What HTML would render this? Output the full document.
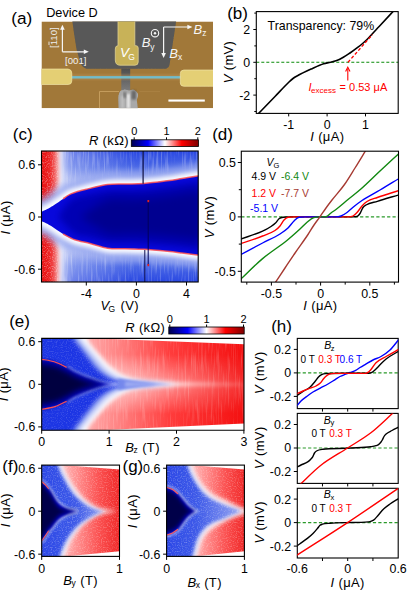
<!DOCTYPE html>
<html><head><meta charset="utf-8"><style>
html,body{margin:0;padding:0;background:#fff;width:415px;height:593px;overflow:hidden}
svg{display:block;font-family:"Liberation Sans", sans-serif}
</style></head><body>
<svg width="415" height="593" viewBox="0 0 415 593">
<defs><clipPath id="clipA"><rect x="41.5" y="21.5" width="171.5" height="86.7"/></clipPath>
<filter id="tex" x="0" y="0" width="1" height="1"><feTurbulence type="fractalNoise" baseFrequency="0.7" numOctaves="2" seed="7" result="n"/><feColorMatrix in="n" type="matrix" values="0 0 0 0 1  0 0 0 0 1  0 0 0 0 1  3 0 0 0 -1.5" result="w"/><feComposite in="w" in2="SourceAlpha" operator="in" result="w2"/><feMerge><feMergeNode in="SourceGraphic"/><feMergeNode in="w2"/></feMerge></filter>
<linearGradient id="gStrip" x1="0" y1="68.7" x2="0" y2="90" gradientUnits="userSpaceOnUse"><stop offset="0" stop-color="#4e4e4e"/><stop offset="1" stop-color="#7a7a7a"/></linearGradient>
<clipPath id="clipB"><rect x="256.3" y="11.6" width="141.89999999999998" height="101.80000000000001"/></clipPath>
<clipPath id="clipC"><rect x="41.5" y="151" width="156.7" height="131"/></clipPath>
<linearGradient id="gCbase" x1="0" y1="151" x2="0" y2="282" gradientUnits="userSpaceOnUse"><stop offset="0" stop-color="#2a48e2"/><stop offset="0.12" stop-color="#4a68e6"/><stop offset="0.24" stop-color="#98a8f0"/><stop offset="0.5" stop-color="#c8d0f6"/><stop offset="0.76" stop-color="#98a8f0"/><stop offset="0.88" stop-color="#4a68e6"/><stop offset="1" stop-color="#2a48e2"/></linearGradient>
<linearGradient id="gCwhite" x1="55" y1="0" x2="130" y2="0" gradientUnits="userSpaceOnUse"><stop offset="0" stop-color="#ffffff" stop-opacity="0.7"/><stop offset="0.25" stop-color="#ffffff" stop-opacity="0.3"/><stop offset="1" stop-color="#ffffff" stop-opacity="0"/></linearGradient>
<filter id="blur2" x="-20%" y="-20%" width="140%" height="140%"><feGaussianBlur stdDeviation="2"/></filter>
<filter id="blur1" x="-20%" y="-20%" width="140%" height="140%"><feGaussianBlur stdDeviation="1"/></filter>
<filter id="blur3" x="-20%" y="-20%" width="140%" height="140%"><feGaussianBlur stdDeviation="3.5"/></filter>
<filter id="blur5" x="-30%" y="-30%" width="160%" height="160%"><feGaussianBlur stdDeviation="5"/></filter>
<filter id="streak" x="0" y="0" width="1" height="1"><feTurbulence type="fractalNoise" baseFrequency="0.6 0.04" numOctaves="2" seed="11"/><feColorMatrix type="matrix" values="0 0 0 0 1  0 0 0 0 1  0 0 0 0 1  2.6 0 0 0 -1.25"/><feComposite in2="SourceAlpha" operator="in"/></filter>
<filter id="speck" x="0" y="0" width="1" height="1"><feTurbulence type="fractalNoise" baseFrequency="0.8" numOctaves="1" seed="5"/><feColorMatrix type="matrix" values="0 0 0 0 1  0 0 0 0 1  0 0 0 0 1  3 0 0 0 -1.45"/><feComposite in2="SourceAlpha" operator="in"/></filter>
<linearGradient id="gCr" x1="41" y1="0" x2="59" y2="0" gradientUnits="userSpaceOnUse"><stop offset="0" stop-color="#e81010"/><stop offset="0.55" stop-color="#ec2222"/><stop offset="0.8" stop-color="#f26060"/><stop offset="1" stop-color="#f8a8a8"/></linearGradient>
<clipPath id="clipLensC"><path d="M40 212.3C41 211.88 44.07 210.75 46 209.8C47.93 208.85 48.75 208.42 51.6 206.6C54.45 204.78 59.9 201.02 63.1 198.9C66.3 196.78 66.93 195.5 70.8 193.9C74.67 192.3 80.18 190.85 86.3 189.3C92.42 187.75 101.05 185.48 107.5 184.6C113.95 183.72 118.92 184.18 125 184C131.08 183.82 136.97 184.03 144 183.5C151.03 182.97 160.87 181.63 167.2 180.8C173.53 179.97 176.53 179.38 182 178.5C187.47 177.62 197 176 200 175.5 L200 255.3C197 254.92 187.47 253.67 182 253C176.53 252.33 173.53 251.92 167.2 251.3C160.87 250.68 151.03 249.72 144 249.3C136.97 248.88 131.08 248.98 125 248.8C118.92 248.62 113.32 249.08 107.5 248.2C101.68 247.32 95.57 244.92 90.1 243.5C84.63 242.08 79.2 241.3 74.7 239.7C70.2 238.1 66.95 236.15 63.1 233.9C59.25 231.65 54.45 227.98 51.6 226.2C48.75 224.42 47.93 224.13 46 223.2C44.07 222.27 41 221.03 40 220.6 Z"/></clipPath>
<linearGradient id="gSeis" x1="0" y1="0" x2="1" y2="0"><stop offset="0" stop-color="#00004c"/><stop offset="0.25" stop-color="#0000ff"/><stop offset="0.5" stop-color="#ffffff"/><stop offset="0.75" stop-color="#ff0000"/><stop offset="1" stop-color="#7f0000"/></linearGradient>
<clipPath id="clipD"><rect x="241.3" y="151.2" width="157.2" height="130.90000000000003"/></clipPath>
<clipPath id="clipE"><path d="M41.7 338.4 H100 L244 344.3 V423.5 L100 430.2 H41.7 Z"/></clipPath>
<linearGradient id="gEred" x1="80" y1="0" x2="244" y2="0" gradientUnits="userSpaceOnUse"><stop offset="0" stop-color="#ffb4b4"/><stop offset="0.25" stop-color="#ff8080"/><stop offset="0.55" stop-color="#ff3c3c"/><stop offset="1" stop-color="#f41010"/></linearGradient>
<filter id="bl3" x="-50%" y="-50%" width="200%" height="200%"><feGaussianBlur stdDeviation="3"/></filter>
<filter id="bl2" x="-50%" y="-50%" width="200%" height="200%"><feGaussianBlur stdDeviation="2"/></filter>
<filter id="bl15" x="-50%" y="-50%" width="200%" height="200%"><feGaussianBlur stdDeviation="1.5"/></filter>
<filter id="bl4" x="-50%" y="-50%" width="200%" height="200%"><feGaussianBlur stdDeviation="4"/></filter>
<linearGradient id="gEc" x1="0" y1="354" x2="0" y2="414" gradientUnits="userSpaceOnUse"><stop offset="0" stop-color="#fff" stop-opacity="0"/><stop offset="0.5" stop-color="#fff" stop-opacity="0.75"/><stop offset="1" stop-color="#fff" stop-opacity="0"/></linearGradient>
<linearGradient id="gEcm" x1="100" y1="0" x2="244" y2="0" gradientUnits="userSpaceOnUse"><stop offset="0" stop-color="#fff" stop-opacity="1"/><stop offset="0.6" stop-color="#fff" stop-opacity="0.5"/><stop offset="1" stop-color="#fff" stop-opacity="0.15"/></linearGradient>
<mask id="mEc"><rect x="40" y="330" width="210" height="110" fill="url(#gEcm)"/></mask>
<clipPath id="clipEred"><path d="M40 330 H250 V440 H40 Z"/></clipPath>
<clipPath id="clipF"><path d="M41.7 465.1 H61.7 L119.5 469.5 V551.2 L64.7 556.4 H41.7 Z"/></clipPath>
<linearGradient id="gredF" x1="61.7" y1="0" x2="119.5" y2="0" gradientUnits="userSpaceOnUse"><stop offset="0" stop-color="#ffbcbc"/><stop offset="0.3" stop-color="#ff8a8a"/><stop offset="0.65" stop-color="#fb5050"/><stop offset="1" stop-color="#f02828"/></linearGradient>
<linearGradient id="gblueF" x1="41.7" y1="0" x2="105.7" y2="0" gradientUnits="userSpaceOnUse"><stop offset="0" stop-color="#2c48e6"/><stop offset="0.55" stop-color="#3e5ae8"/><stop offset="1" stop-color="#98a6f2"/></linearGradient>
<clipPath id="clipG"><path d="M166.6 465.1 H189.6 L244.4 469.5 V551.2 L193.6 556.4 H166.6 Z"/></clipPath>
<linearGradient id="gredG" x1="191.6" y1="0" x2="244.4" y2="0" gradientUnits="userSpaceOnUse"><stop offset="0" stop-color="#ffbcbc"/><stop offset="0.3" stop-color="#ff8a8a"/><stop offset="0.65" stop-color="#fb5050"/><stop offset="1" stop-color="#f02828"/></linearGradient>
<linearGradient id="gblueG" x1="166.6" y1="0" x2="242.6" y2="0" gradientUnits="userSpaceOnUse"><stop offset="0" stop-color="#2c48e6"/><stop offset="0.4" stop-color="#3e5ae8"/><stop offset="1" stop-color="#98a6f2"/></linearGradient>
<clipPath id="clipH0"><rect x="297.3" y="338.4" width="100.9" height="70.2"/></clipPath>
<clipPath id="clipH1"><rect x="297.3" y="413.4" width="100.9" height="70"/></clipPath>
<clipPath id="clipH2"><rect x="297.3" y="488.3" width="100.9" height="69.7"/></clipPath></defs>
<text x="11.2" y="24.4" font-size="17.2" text-anchor="start" fill="#000">(a)</text>
<text x="46.2" y="16.8" font-size="12.7" text-anchor="start" fill="#000">Device D</text>
<g clip-path="url(#clipA)">
<g>
<rect x="41.5" y="21.5" width="171.5" height="86.7" fill="#93641c" stroke="none" stroke-width="1"/>
<rect x="41.5" y="21.5" width="171.5" height="86.7" fill="#ffffff" opacity="0.13" filter="url(#tex)"/>
<path d="M72.2 20 L74.2 34.5 L76.5 48.9 L79 58 C80.5 64 82 67 86.5 68.7 L165.5 68.7 C168.5 68 169.2 66.5 169.8 63 L176.3 20 Z" fill="#383838" stroke="none" stroke-width="1"/>
<path d="M72.2 20 L74.2 34.5 L76.5 48.9 L79 58 C80.5 64 82 67 86.5 68.7 L165.5 68.7 C168.5 68 169.2 66.5 169.8 63 L176.3 20 Z" fill="#ffffff" opacity="0.16" filter="url(#tex)"/>
<path d="M118 20 L134.8 20 L134.8 45.7 L136 45.7 Q138.2 45.7 138.2 48 L138.2 62 Q138.2 65.2 135 65.2 L120 65.2 Q115.3 65.2 115.3 60 L115.3 49 Q115.3 45.7 118 45.7 Z" fill="#c8b258" stroke="#e0d090" stroke-width="0.8"/>
<rect x="121.3" y="68.7" width="8.9" height="22" fill="url(#gStrip)" stroke="none" stroke-width="1"/>
<path d="M118.6 108.5 L118.3 99 Q118.5 92 121 90.5 L125 89.5 L129 90.5 L133 89.5 Q137.5 91 138.2 95 L136.8 100 L137.8 108.5 Z" fill="#7c7c7c" stroke="none" stroke-width="1"/>
<path d="M118.6 108.5 L118.3 99 Q118.5 92 121 90.5 L125 89.5 L129 90.5 L133 89.5 Q137.5 91 138.2 95 L136.8 100 L137.8 108.5 Z" fill="#ffffff" opacity="0.35" filter="url(#tex)"/>
<rect x="126.8" y="94" width="3.2" height="14.5" fill="#f0f0f0" stroke="none" stroke-width="1" opacity="0.9" filter="url(#blur1)"/>
<rect x="131.5" y="90.5" width="4.5" height="9" fill="#303030" stroke="none" stroke-width="1" opacity="0.55" filter="url(#blur1)"/>
<rect x="121" y="96" width="3" height="12" fill="#d0d0d0" stroke="none" stroke-width="1" opacity="0.6" filter="url(#blur1)"/>
<rect x="123.5" y="92" width="2.5" height="6" fill="#383838" stroke="none" stroke-width="1" opacity="0.5" filter="url(#blur1)"/>
<rect x="71" y="74.8" width="110" height="4.6" fill="#c09860" stroke="none" stroke-width="1" opacity="0.55" filter="url(#blur1)"/>
<rect x="71" y="76.1" width="110" height="2.4" fill="#72bccb" stroke="none" stroke-width="1"/>
<path d="M40 69 L68 69 Q71.8 69.5 71.8 73 L71.8 81 Q71.8 84.5 68 84.5 L40 84.5 Z" fill="#dec452" stroke="#ecdc98" stroke-width="0.7"/>
<path d="M40 69 L68 69 Q71.8 69.5 71.8 73 L71.8 81 Q71.8 84.5 68 84.5 L40 84.5 Z" fill="#ffffff" opacity="0.2" filter="url(#tex)"/>
<path d="M215 70 L183.8 70 Q180.3 70.3 180.3 73.5 L180.3 83 Q180.3 86.3 183.8 86.3 L215 86.3 Z" fill="#dec452" stroke="#ecdc98" stroke-width="0.7"/>
<path d="M215 70 L183.8 70 Q180.3 70.3 180.3 73.5 L180.3 83 Q180.3 86.3 183.8 86.3 L215 86.3 Z" fill="#ffffff" opacity="0.2" filter="url(#tex)"/>
<path d="M99.5 108.5 L99.5 91.5 L119 91.5" fill="none" stroke="#c8a060" stroke-width="0.9"/>
<path d="M139.5 91.5 L160 91.5" fill="none" stroke="#c8a060" stroke-width="0.7" opacity="0.3"/>
</g>
<rect x="168.4" y="99.5" width="36.4" height="2.1" fill="#ffffff" stroke="none" stroke-width="1"/>
<line x1="62.4" y1="51.8" x2="62.4" y2="28.5" stroke="#f6f6f6" stroke-width="1.2"/>
<path d="M60.1 29.8 L62.4 24.8 L64.7 29.8 Z" fill="#f6f6f6" stroke="none" stroke-width="1"/>
<line x1="62.4" y1="51.8" x2="85" y2="51.8" stroke="#f6f6f6" stroke-width="1.2"/>
<path d="M83.8 49.5 L88.8 51.8 L83.8 54.1 Z" fill="#f6f6f6" stroke="none" stroke-width="1"/>
<text x="86.4" y="63.8" font-size="9.6" text-anchor="end" fill="#f2f2f2">[001]</text>
<text x="57" y="37.6" font-size="9.6" text-anchor="middle" fill="#eeeeee" transform="rotate(-90 57 37.6)">[110]</text>
<line x1="49" y1="41.6" x2="49" y2="45" stroke="#eeeeee" stroke-width="0.9"/>
<line x1="163.6" y1="27" x2="163.6" y2="54" stroke="#f6f6f6" stroke-width="1.2"/>
<path d="M161.3 53 L163.6 58 L165.9 53 Z" fill="#f6f6f6" stroke="none" stroke-width="1"/>
<line x1="163.6" y1="27" x2="188.5" y2="27" stroke="#f6f6f6" stroke-width="1.2"/>
<path d="M187.4 24.7 L192.4 27 L187.4 29.3 Z" fill="#f6f6f6" stroke="none" stroke-width="1"/>
<text x="193.6" y="33.8" font-size="13" text-anchor="start" fill="#f6f6f6" font-style="italic">B</text>
<text x="202.3" y="36.3" font-size="8.5" text-anchor="start" fill="#f6f6f6">z</text>
<text x="169.2" y="57.5" font-size="13" text-anchor="start" fill="#f6f6f6" font-style="italic">B</text>
<text x="178" y="60.2" font-size="8.5" text-anchor="start" fill="#f6f6f6">x</text>
<text x="141.8" y="47.3" font-size="13" text-anchor="start" fill="#f6f6f6" font-style="italic">B</text>
<text x="150.3" y="50.2" font-size="8.5" text-anchor="start" fill="#f6f6f6">y</text>
<circle cx="155" cy="33.2" r="3.7" fill="none" stroke="#f6f6f6" stroke-width="1.1"/>
<circle cx="155" cy="33.2" r="1.2" fill="#f6f6f6"/>
<text x="120" y="56.5" font-size="13.5" text-anchor="start" fill="#fff" font-style="italic">V</text>
<text x="128.3" y="59.8" font-size="8.5" text-anchor="start" fill="#fff">G</text>
</g>
<text x="227.2" y="18.9" font-size="17" text-anchor="start" fill="#000">(b)</text>
<line x1="256.3" y1="62.3" x2="398.2" y2="62.3" stroke="#0a8a0a" stroke-width="1.1" stroke-dasharray="3 2"/>
<g clip-path="url(#clipB)">
<path d="M257.5 114.5C263.33 108.5 269.17 102.52 275 96.5C279.67 91.68 284.33 86.46 289 82C290.33 80.73 291.67 79.5 293 78.5C294.33 77.5 295.67 76.74 297 76C301.83 73.31 306.67 71.11 311.5 68.9C315.57 67.04 319.63 64.98 323.7 63.7C326 62.98 328.3 62.9 330.6 62.3C333.5 61.54 336.4 60.85 339.3 59.5C342.87 57.84 346.43 55.38 350 53C352.67 51.22 355.33 49.23 358 47.2C359.33 46.18 360.67 45.13 362 44C363.67 42.58 365.33 41.15 367 39.5C370.47 36.07 373.93 32.02 377.4 28.3C382.03 23.32 386.67 18.34 391.3 13.4C391.87 12.8 392.43 12.2 393 11.6" fill="none" stroke="#000" stroke-width="1.6" stroke-linejoin="round"/>
</g>
<line x1="348" y1="62.3" x2="372.5" y2="34.5" stroke="#ff0000" stroke-width="1.3" stroke-dasharray="3.2 2"/>
<line x1="347.8" y1="80.5" x2="347.8" y2="69" stroke="#ff0000" stroke-width="1.1"/>
<path d="M345.6 71.5 L347.8 67.3 L350 71.5" fill="none" stroke="#ff0000" stroke-width="1.1"/>
<text x="308.4" y="91" font-size="11" text-anchor="start" fill="#ff0000" font-style="italic">I</text>
<text x="311" y="93" font-size="8" text-anchor="start" fill="#ff0000">excess</text>
<text x="339.6" y="91" font-size="11" text-anchor="start" fill="#ff0000">= 0.53 μA</text>
<text x="267.6" y="30.2" font-size="12.35" text-anchor="start" fill="#000">Transparency: 79%</text>
<rect x="256.3" y="11.6" width="141.9" height="101.8" fill="none" stroke="#000" stroke-width="1.1"/>
<line x1="253.3" y1="29.5" x2="256.3" y2="29.5" stroke="#000" stroke-width="1"/>
<text x="250.2" y="34.1" font-size="12.4" text-anchor="end" fill="#000">2</text>
<line x1="253.3" y1="62.3" x2="256.3" y2="62.3" stroke="#000" stroke-width="1"/>
<text x="250.2" y="66.9" font-size="12.4" text-anchor="end" fill="#000">0</text>
<line x1="253.3" y1="95.1" x2="256.3" y2="95.1" stroke="#000" stroke-width="1"/>
<text x="250.2" y="99.7" font-size="12.4" text-anchor="end" fill="#000">-2</text>
<line x1="254.3" y1="13.1" x2="256.3" y2="13.1" stroke="#000" stroke-width="1"/>
<line x1="254.3" y1="45.9" x2="256.3" y2="45.9" stroke="#000" stroke-width="1"/>
<line x1="254.3" y1="78.7" x2="256.3" y2="78.7" stroke="#000" stroke-width="1"/>
<line x1="254.3" y1="111.5" x2="256.3" y2="111.5" stroke="#000" stroke-width="1"/>
<line x1="288.7" y1="113.4" x2="288.7" y2="116.4" stroke="#000" stroke-width="1"/>
<text x="288.7" y="129" font-size="12.4" text-anchor="middle" fill="#000">-1</text>
<line x1="327.1" y1="113.4" x2="327.1" y2="116.4" stroke="#000" stroke-width="1"/>
<text x="327.1" y="129" font-size="12.4" text-anchor="middle" fill="#000">0</text>
<line x1="365.5" y1="113.4" x2="365.5" y2="116.4" stroke="#000" stroke-width="1"/>
<text x="365.5" y="129" font-size="12.4" text-anchor="middle" fill="#000">1</text>
<text x="233.2" y="62" font-size="13" text-anchor="middle" fill="#000" transform="rotate(-90 233.2 62)" letter-spacing="0.35"><tspan font-style="italic">V</tspan> (mV)</text>
<text x="327.3" y="141.2" font-size="13" text-anchor="middle" fill="#000" letter-spacing="0.35"><tspan font-style="italic">I</tspan> (μA)</text>
<text x="12.8" y="140.1" font-size="17" text-anchor="start" fill="#000">(c)</text>
<text x="212.2" y="140.3" font-size="17" text-anchor="start" fill="#000">(d)</text>
<g clip-path="url(#clipC)">
<rect x="41.5" y="151" width="156.7" height="131" fill="url(#gCbase)" stroke="none" stroke-width="1"/>
<rect x="41.5" y="151" width="156.7" height="131" fill="url(#gCwhite)" stroke="none" stroke-width="1"/>
<rect x="41.5" y="151" width="156.7" height="131" fill="#ffffff" opacity="0.3" filter="url(#streak)"/>
<path d="M35 145 L62 145 L62 289 L35 289 Z" fill="#ffffff" stroke="none" stroke-width="1" filter="url(#blur3)" opacity="0.9"/>
<path d="M35 145 L58 145 L58.5 165 L58.5 183 Q58 195 52 200 Q45 204 35 205 Z" fill="url(#gCr)" stroke="none" stroke-width="1" filter="url(#blur2)"/>
<path d="M35 289 L58 289 L58.5 270 L58.5 252 Q58 239 52 234 Q45 230 35 229 Z" fill="url(#gCr)" stroke="none" stroke-width="1" filter="url(#blur2)"/>
<path d="M35 145 L58 145 L58.5 165 L58.5 183 Q58 195 52 200 Q45 204 35 205 ZM35 289 L58 289 L58.5 270 L58.5 252 Q58 239 52 234 Q45 230 35 229 Z" fill="#ffffff" opacity="0.45" filter="url(#speck)"/>
<path d="M40 212.3C41 211.88 44.07 210.75 46 209.8C47.93 208.85 48.75 208.42 51.6 206.6C54.45 204.78 59.9 201.02 63.1 198.9C66.3 196.78 66.93 195.5 70.8 193.9C74.67 192.3 80.18 190.85 86.3 189.3C92.42 187.75 101.05 185.48 107.5 184.6C113.95 183.72 118.92 184.18 125 184C131.08 183.82 136.97 184.03 144 183.5C151.03 182.97 160.87 181.63 167.2 180.8C173.53 179.97 176.53 179.38 182 178.5C187.47 177.62 197 176 200 175.5 L200 255.3C197 254.92 187.47 253.67 182 253C176.53 252.33 173.53 251.92 167.2 251.3C160.87 250.68 151.03 249.72 144 249.3C136.97 248.88 131.08 248.98 125 248.8C118.92 248.62 113.32 249.08 107.5 248.2C101.68 247.32 95.57 244.92 90.1 243.5C84.63 242.08 79.2 241.3 74.7 239.7C70.2 238.1 66.95 236.15 63.1 233.9C59.25 231.65 54.45 227.98 51.6 226.2C48.75 224.42 47.93 224.13 46 223.2C44.07 222.27 41 221.03 40 220.6 Z" fill="none" stroke="#9cacf0" stroke-width="24" filter="url(#blur3)" opacity="0.9"/>
<path d="M40 212.3C41 211.88 44.07 210.75 46 209.8C47.93 208.85 48.75 208.42 51.6 206.6C54.45 204.78 59.9 201.02 63.1 198.9C66.3 196.78 66.93 195.5 70.8 193.9C74.67 192.3 80.18 190.85 86.3 189.3C92.42 187.75 101.05 185.48 107.5 184.6C113.95 183.72 118.92 184.18 125 184C131.08 183.82 136.97 184.03 144 183.5C151.03 182.97 160.87 181.63 167.2 180.8C173.53 179.97 176.53 179.38 182 178.5C187.47 177.62 197 176 200 175.5 L200 255.3C197 254.92 187.47 253.67 182 253C176.53 252.33 173.53 251.92 167.2 251.3C160.87 250.68 151.03 249.72 144 249.3C136.97 248.88 131.08 248.98 125 248.8C118.92 248.62 113.32 249.08 107.5 248.2C101.68 247.32 95.57 244.92 90.1 243.5C84.63 242.08 79.2 241.3 74.7 239.7C70.2 238.1 66.95 236.15 63.1 233.9C59.25 231.65 54.45 227.98 51.6 226.2C48.75 224.42 47.93 224.13 46 223.2C44.07 222.27 41 221.03 40 220.6 Z" fill="none" stroke="#ffffff" stroke-width="9" filter="url(#blur2)" opacity="0.95"/>
<path d="M40 212.3C41 211.88 44.07 210.75 46 209.8C47.93 208.85 48.75 208.42 51.6 206.6C54.45 204.78 59.9 201.02 63.1 198.9C66.3 196.78 66.93 195.5 70.8 193.9C74.67 192.3 80.18 190.85 86.3 189.3C92.42 187.75 101.05 185.48 107.5 184.6C113.95 183.72 118.92 184.18 125 184C131.08 183.82 136.97 184.03 144 183.5C151.03 182.97 160.87 181.63 167.2 180.8C173.53 179.97 176.53 179.38 182 178.5C187.47 177.62 197 176 200 175.5 L200 255.3C197 254.92 187.47 253.67 182 253C176.53 252.33 173.53 251.92 167.2 251.3C160.87 250.68 151.03 249.72 144 249.3C136.97 248.88 131.08 248.98 125 248.8C118.92 248.62 113.32 249.08 107.5 248.2C101.68 247.32 95.57 244.92 90.1 243.5C84.63 242.08 79.2 241.3 74.7 239.7C70.2 238.1 66.95 236.15 63.1 233.9C59.25 231.65 54.45 227.98 51.6 226.2C48.75 224.42 47.93 224.13 46 223.2C44.07 222.27 41 221.03 40 220.6 Z" fill="#0808dc" stroke="none" stroke-width="1"/>
<g clip-path="url(#clipLensC)">
<path d="M58 217C60.13 214.15 66.08 203.52 70.8 199.9C75.52 196.28 80.18 196.85 86.3 195.3C92.42 193.75 101.05 191.48 107.5 190.6C113.95 189.72 118.92 190.18 125 190C131.08 189.82 136.97 190.03 144 189.5C151.03 188.97 160.87 187.63 167.2 186.8C173.53 185.97 176.53 185.38 182 184.5C187.47 183.62 197 182 200 181.5 L200 249.3C197 248.92 187.47 247.67 182 247C176.53 246.33 173.53 245.92 167.2 245.3C160.87 244.68 151.03 243.72 144 243.3C136.97 242.88 131.08 242.98 125 242.8C118.92 242.62 113.32 243.08 107.5 242.2C101.68 241.32 95.57 238.92 90.1 237.5C84.63 236.08 80.05 237.12 74.7 233.7C69.35 230.28 60.78 219.78 58 217 Z" fill="#0000b4" stroke="none" stroke-width="1" filter="url(#blur3)"/>
<path d="M80 217C84.58 214.1 100 202.6 107.5 199.6C115 196.6 118.92 199.18 125 199C131.08 198.82 136.97 199.03 144 198.5C151.03 197.97 160.87 196.63 167.2 195.8C173.53 194.97 176.53 194.38 182 193.5C187.47 192.62 197 191 200 190.5 L200 240.3C197 239.92 187.47 238.67 182 238C176.53 237.33 173.53 236.92 167.2 236.3C160.87 235.68 151.03 234.72 144 234.3C136.97 233.88 131.08 233.98 125 233.8C118.92 233.62 115 236 107.5 233.2C100 230.4 84.58 219.7 80 217 Z" fill="#000090" stroke="none" stroke-width="1" filter="url(#blur5)"/>
</g>
<path d="M63.1 198.9C64.38 198.07 66.93 195.5 70.8 193.9C74.67 192.3 80.18 190.85 86.3 189.3C92.42 187.75 101.05 185.48 107.5 184.6C113.95 183.72 118.92 184.18 125 184C131.08 183.82 136.97 184.03 144 183.5C151.03 182.97 160.87 181.63 167.2 180.8C173.53 179.97 176.53 179.38 182 178.5C187.47 177.62 197 176 200 175.5" fill="none" stroke="#ff5050" stroke-width="1.5" opacity="0.85"/>
<path d="M63.1 233.9C65.03 234.87 70.2 238.1 74.7 239.7C79.2 241.3 84.63 242.08 90.1 243.5C95.57 244.92 101.68 247.32 107.5 248.2C113.32 249.08 118.92 248.62 125 248.8C131.08 248.98 136.97 248.88 144 249.3C151.03 249.72 160.87 250.68 167.2 251.3C173.53 251.92 176.53 252.33 182 253C187.47 253.67 197 254.92 200 255.3" fill="none" stroke="#ff5050" stroke-width="1.5" opacity="0.85"/>
<line x1="143.1" y1="151" x2="143.1" y2="183.8" stroke="#101040" stroke-width="1.2"/>
<line x1="144.8" y1="250" x2="144.8" y2="282" stroke="#101050" stroke-width="1"/>
<line x1="148.2" y1="201" x2="148.2" y2="265" stroke="#00005a" stroke-width="1"/>
<rect x="147.4" y="200" width="1.8" height="2.2" fill="#e02020" stroke="none" stroke-width="1"/>
<rect x="147.4" y="264" width="1.8" height="2.2" fill="#e02020" stroke="none" stroke-width="1"/>
</g>
<rect x="41.5" y="151" width="156.7" height="131" fill="none" stroke="#000" stroke-width="1.1"/>
<line x1="38" y1="164.8" x2="41.5" y2="164.8" stroke="#000" stroke-width="1"/>
<text x="35.4" y="169.2" font-size="12.4" text-anchor="end" fill="#000">0.6</text>
<line x1="38" y1="217" x2="41.5" y2="217" stroke="#000" stroke-width="1"/>
<text x="35.4" y="221.4" font-size="12.4" text-anchor="end" fill="#000">0</text>
<line x1="38" y1="269.2" x2="41.5" y2="269.2" stroke="#000" stroke-width="1"/>
<text x="35.4" y="273.6" font-size="12.4" text-anchor="end" fill="#000">-0.6</text>
<line x1="86.3" y1="282" x2="86.3" y2="285.5" stroke="#000" stroke-width="1"/>
<text x="86.3" y="297.7" font-size="12.4" text-anchor="middle" fill="#000">-4</text>
<line x1="136.4" y1="282" x2="136.4" y2="285.5" stroke="#000" stroke-width="1"/>
<text x="136.4" y="297.7" font-size="12.4" text-anchor="middle" fill="#000">0</text>
<line x1="186.5" y1="282" x2="186.5" y2="285.5" stroke="#000" stroke-width="1"/>
<text x="186.5" y="297.7" font-size="12.4" text-anchor="middle" fill="#000">4</text>
<text x="9.5" y="217.5" font-size="13" text-anchor="middle" fill="#000" transform="rotate(-90 9.5 217.5)" letter-spacing="0.35"><tspan font-style="italic">I</tspan> (μA)</text>
<text x="100.6" y="310.4" font-size="13" text-anchor="start" fill="#000" font-style="italic" letter-spacing="0.35">V</text>
<text x="108.6" y="311.8" font-size="8.5" text-anchor="start" fill="#000">G</text>
<text x="120.5" y="310.4" font-size="13" text-anchor="start" fill="#000" letter-spacing="0.35">(V)</text>
<rect x="131.3" y="139.8" width="67.2" height="6.7" fill="url(#gSeis)" stroke="#000" stroke-width="0.8"/>
<line x1="134.2" y1="137.3" x2="134.2" y2="139.8" stroke="#000" stroke-width="1"/>
<text x="134.2" y="134.9" font-size="11" text-anchor="middle" fill="#000">0</text>
<line x1="166.5" y1="137.3" x2="166.5" y2="139.8" stroke="#000" stroke-width="1"/>
<text x="166.5" y="134.9" font-size="11" text-anchor="middle" fill="#000">1</text>
<line x1="197.8" y1="137.3" x2="197.8" y2="139.8" stroke="#000" stroke-width="1"/>
<text x="197.8" y="134.9" font-size="11" text-anchor="middle" fill="#000">2</text>
<text x="88.9" y="145.4" font-size="13" text-anchor="start" fill="#000" letter-spacing="0.35"><tspan font-style="italic">R</tspan> (kΩ)</text>
<line x1="241.3" y1="216.9" x2="398.5" y2="216.9" stroke="#2a9a2a" stroke-width="1.1" stroke-dasharray="3.2 2.2"/>
<g clip-path="url(#clipD)">
<path d="M240 239.3C247.53 236.6 255.07 234.66 262.6 231.2C265.4 229.91 268.2 228.37 271 226.5C272.5 225.5 274 224.48 275.5 223C276.67 221.85 277.83 219.73 279 218.8C280.33 217.73 281.67 217.37 283 217.2C285.33 216.9 287.67 216.9 290 216.9C310.67 216.9 331.33 216.9 352 216.9C353.67 216.9 355.33 216.9 357 216.5C358 216.26 359 215 360 213.5C361 212 362 208.92 363 207.5C364 206.08 365 205.58 366 205C369.77 202.81 373.53 202.48 377.3 201.3C384.53 199.03 391.77 196.97 399 194.8" fill="none" stroke="#000000" stroke-width="1.4" stroke-linejoin="round"/>
<path d="M240 243.9C247.53 241.27 255.07 238.99 262.6 236C266.73 234.36 270.87 233.28 275 230.5C276.67 229.38 278.33 228 280 226C281.33 224.4 282.67 221.45 284 220C285.33 218.55 286.67 217.53 288 217.3C290.33 216.9 292.67 216.9 295 216.9C312.67 216.9 330.33 216.9 348 216.9C349.67 216.9 351.33 216.88 353 216C354.33 215.3 355.67 213.95 357 212.5C358.67 210.69 360.33 207.83 362 206C363.67 204.17 365.33 202.57 367 201.5C370.43 199.29 373.87 198.72 377.3 197.5C384.53 194.93 391.77 192.83 399 190.5" fill="none" stroke="#ff0000" stroke-width="1.4" stroke-linejoin="round"/>
<path d="M240 255C247.53 251 255.07 246.95 262.6 243C268.4 239.96 274.2 237.68 280 234C282.67 232.31 285.33 230.56 288 228C290 226.08 292 222.91 294 221C295.67 219.41 297.33 217.59 299 217.3C301.33 216.9 303.67 216.9 306 216.9C315.67 216.9 325.33 216.9 335 216.9C337 216.9 339 216.73 341 216C343 215.27 345 213.94 347 212.5C349.33 210.82 351.67 208.38 354 206.5C356.67 204.36 359.33 202.28 362 200.5C368 196.5 374 193.57 380 190C386.33 186.24 392.67 182.33 399 178.5" fill="none" stroke="#0000ff" stroke-width="1.4" stroke-linejoin="round"/>
<path d="M240 279.8C247.53 272.73 255.07 264.95 262.6 258.6C270.8 251.69 279 246.85 287.2 240.2C291.47 236.74 295.73 232.92 300 229C302.53 226.67 305.07 223.75 307.6 221.7C309.67 220.02 311.73 218.29 313.8 217.6C315.87 216.91 317.93 216.93 320 216.9C322 216.87 324 216.9 326 216.7C327.67 216.54 329.33 214.21 331 213C332.77 211.71 334.53 210.57 336.3 209.2C340.2 206.19 344.1 202.7 348 199.5C352.3 195.97 356.6 192.78 360.9 189C367.27 183.41 373.63 176.93 380 171C386.33 165.1 392.67 159.33 399 153.5" fill="none" stroke="#118811" stroke-width="1.4" stroke-linejoin="round"/>
<path d="M275 283C278.33 278 281.67 272.98 285 268C288.47 262.82 291.93 257.56 295.4 252.5C299.6 246.37 303.8 240.83 308 234.5C310 231.49 312 227.96 314 225C315.97 222.09 317.93 219.68 319.9 216.9C321.93 214.02 323.97 210.84 326 208C328 205.21 330 202.57 332 200C336.17 194.64 340.33 190.36 344.5 184.5C348 179.58 351.5 173.61 355 168C358.67 162.12 362.33 156 366 150" fill="none" stroke="#a63a32" stroke-width="1.4" stroke-linejoin="round"/>
</g>
<rect x="241.3" y="151.2" width="157.2" height="130.9" fill="none" stroke="#000" stroke-width="1.1"/>
<line x1="237.8" y1="162.5" x2="241.3" y2="162.5" stroke="#000" stroke-width="1"/>
<text x="235.9" y="166.9" font-size="12.4" text-anchor="end" fill="#000">0.5</text>
<line x1="237.8" y1="216.9" x2="241.3" y2="216.9" stroke="#000" stroke-width="1"/>
<text x="235.9" y="221.3" font-size="12.4" text-anchor="end" fill="#000">0</text>
<line x1="237.8" y1="271.3" x2="241.3" y2="271.3" stroke="#000" stroke-width="1"/>
<text x="235.9" y="275.7" font-size="12.4" text-anchor="end" fill="#000">-0.5</text>
<line x1="238.8" y1="189.7" x2="241.3" y2="189.7" stroke="#000" stroke-width="1"/>
<line x1="238.8" y1="244.1" x2="241.3" y2="244.1" stroke="#000" stroke-width="1"/>
<line x1="271.4" y1="282.1" x2="271.4" y2="285.6" stroke="#000" stroke-width="1"/>
<text x="271.4" y="297.8" font-size="12.4" text-anchor="middle" fill="#000">-0.5</text>
<line x1="320.6" y1="282.1" x2="320.6" y2="285.6" stroke="#000" stroke-width="1"/>
<text x="320.6" y="297.8" font-size="12.4" text-anchor="middle" fill="#000">0</text>
<line x1="369.8" y1="282.1" x2="369.8" y2="285.6" stroke="#000" stroke-width="1"/>
<text x="369.8" y="297.8" font-size="12.4" text-anchor="middle" fill="#000">0.5</text>
<line x1="246.8" y1="282.1" x2="246.8" y2="284.6" stroke="#000" stroke-width="1"/>
<line x1="296" y1="282.1" x2="296" y2="284.6" stroke="#000" stroke-width="1"/>
<line x1="345.2" y1="282.1" x2="345.2" y2="284.6" stroke="#000" stroke-width="1"/>
<line x1="394.4" y1="282.1" x2="394.4" y2="284.6" stroke="#000" stroke-width="1"/>
<text x="213.8" y="217" font-size="13" text-anchor="middle" fill="#000" transform="rotate(-90 213.8 217)" letter-spacing="0.35"><tspan font-style="italic">V</tspan> (mV)</text>
<text x="320.4" y="309.6" font-size="13" text-anchor="middle" fill="#000" letter-spacing="0.35"><tspan font-style="italic">I</tspan> (μA)</text>
<text x="266.4" y="166.4" font-size="10.5" text-anchor="start" fill="#000" font-style="italic">V</text>
<text x="273.4" y="168.4" font-size="7.5" text-anchor="start" fill="#000">G</text>
<text x="251.6" y="180.1" font-size="10.5" text-anchor="start" fill="#000">4.9 V</text>
<text x="281" y="180.1" font-size="10.5" text-anchor="start" fill="#118811">-6.4 V</text>
<text x="251.6" y="196.5" font-size="10.5" text-anchor="start" fill="#ff0000">1.2 V</text>
<text x="281" y="196.5" font-size="10.5" text-anchor="start" fill="#a63a32">-7.7 V</text>
<text x="250.1" y="212.3" font-size="10.5" text-anchor="start" fill="#0000ff">-5.1 V</text>
<text x="9.2" y="327.4" font-size="17" text-anchor="start" fill="#000">(e)</text>
<g clip-path="url(#clipE)">
<rect x="41.7" y="338.4" width="202.3" height="91.8" fill="url(#gEred)" stroke="none" stroke-width="1"/>
<rect x="41.7" y="354" width="203" height="60" fill="url(#gEc)" mask="url(#mEc)"/>
<path d="M86 320C86.25 323.1 86.33 334.07 87.5 338.6C88.67 343.13 91 344.55 93 347.2C95 349.85 97.42 352.08 99.5 354.5C101.58 356.92 103.17 359.3 105.5 361.7C107.83 364.1 110.42 366.58 113.5 368.9C116.58 371.22 119.92 373.78 124 375.6C128.08 377.42 131.17 378.77 138 379.8C144.83 380.83 155.5 381.18 165 381.8C174.5 382.42 179.17 383.08 195 383.5C210.83 383.92 249.17 384.17 260 384.3 L260 384.3C249.17 384.43 210.83 384.68 195 385.1C179.17 385.52 174.5 386.18 165 386.8C155.5 387.42 144.83 387.77 138 388.8C131.17 389.83 128.08 391.18 124 393C119.92 394.82 116.58 397.38 113.5 399.7C110.42 402.02 107.83 404.5 105.5 406.9C103.17 409.3 101.58 411.68 99.5 414.1C97.42 416.52 95 418.75 93 421.4C91 424.05 88.67 425.47 87.5 430C86.33 434.53 86.25 445.5 86 448.6 L30 448.6 L30 320 Z" fill="#ffffff" stroke="none" stroke-width="1" filter="url(#bl2)"/>
<rect x="41.7" y="338" width="203" height="93" fill="#ffffff" opacity="0.2" filter="url(#streak)" clip-path="url(#clipEred)"/>
<path d="M76 320C76.58 323.1 77.83 334.07 79.5 338.6C81.17 343.13 83.92 344.55 86 347.2C88.08 349.85 90 352.08 92 354.5C94 356.92 95.92 359.3 98 361.7C100.08 364.1 101.83 366.5 104.5 368.9C107.17 371.3 110.42 374.05 114 376.1C117.58 378.15 120.83 380.08 126 381.2C131.17 382.32 138.5 382.37 145 382.8C151.5 383.23 159.17 383.55 165 383.8C170.83 384.05 177.5 384.22 180 384.3 L180 384.3C177.5 384.38 170.83 384.55 165 384.8C159.17 385.05 151.5 385.37 145 385.8C138.5 386.23 131.17 386.28 126 387.4C120.83 388.52 117.58 390.45 114 392.5C110.42 394.55 107.17 397.3 104.5 399.7C101.83 402.1 100.08 404.5 98 406.9C95.92 409.3 94 411.68 92 414.1C90 416.52 88.08 418.75 86 421.4C83.92 424.05 81.17 425.47 79.5 430C77.83 434.53 76.58 445.5 76 448.6 L30 448.6 L30 320 Z" fill="#98a8f2" stroke="none" stroke-width="1" filter="url(#bl3)"/>
<path d="M70 320C70.67 323.1 72.33 334.07 74 338.6C75.67 343.13 78.08 344.55 80 347.2C81.92 349.85 83.67 352.08 85.5 354.5C87.33 356.92 89.08 359.3 91 361.7C92.92 364.1 94.67 366.6 97 368.9C99.33 371.2 102 373.57 105 375.5C108 377.43 110.83 379.25 115 380.5C119.17 381.75 124.17 382.42 130 383C135.83 383.58 145 383.78 150 384C155 384.22 158.33 384.25 160 384.3 L160 384.3C158.33 384.35 155 384.38 150 384.6C145 384.82 135.83 385.02 130 385.6C124.17 386.18 119.17 386.85 115 388.1C110.83 389.35 108 391.17 105 393.1C102 395.03 99.33 397.4 97 399.7C94.67 402 92.92 404.5 91 406.9C89.08 409.3 87.33 411.68 85.5 414.1C83.67 416.52 81.92 418.75 80 421.4C78.08 424.05 75.67 425.47 74 430C72.33 434.53 70.67 445.5 70 448.6 L30 448.6 L30 320 Z" fill="#1c34e4" stroke="none" stroke-width="1" filter="url(#bl2)"/>
<path d="M70 320C70.67 323.1 72.33 334.07 74 338.6C75.67 343.13 78.08 344.55 80 347.2C81.92 349.85 83.67 352.08 85.5 354.5C87.33 356.92 89.08 359.3 91 361.7C92.92 364.1 94.67 366.6 97 368.9C99.33 371.2 102 373.57 105 375.5C108 377.43 110.83 379.25 115 380.5C119.17 381.75 124.17 382.42 130 383C135.83 383.58 145 383.78 150 384C155 384.22 158.33 384.25 160 384.3 L160 384.3C158.33 384.35 155 384.38 150 384.6C145 384.82 135.83 385.02 130 385.6C124.17 386.18 119.17 386.85 115 388.1C110.83 389.35 108 391.17 105 393.1C102 395.03 99.33 397.4 97 399.7C94.67 402 92.92 404.5 91 406.9C89.08 409.3 87.33 411.68 85.5 414.1C83.67 416.52 81.92 418.75 80 421.4C78.08 424.05 75.67 425.47 74 430C72.33 434.53 70.67 445.5 70 448.6 L30 448.6 L30 320 Z" fill="#ffffff" opacity="0.18" filter="url(#speck)"/>
<path d="M118 378.5 Q140 383 172 384.3 Q140 385.6 118 390.1 Z" fill="#7488ec" stroke="none" stroke-width="1" filter="url(#bl15)"/>
<path d="M125 381.5 Q150 384 180 384.3 Q150 384.6 125 387.1 Z" fill="#a8b4f4" stroke="none" stroke-width="1" filter="url(#bl15)" opacity="0.8"/>
<path d="M66.6 367C67.97 367.8 71.38 370.13 74.8 371.8C78.22 373.47 82.67 375.3 87.1 377C91.53 378.7 96.25 380.78 101.4 382C106.55 383.22 115.23 383.92 118 384.3" fill="none" stroke="#b0bcf8" stroke-width="2.5" filter="url(#bl15)" opacity="0.75"/>
<path d="M66.6 401.6C67.97 400.8 71.38 398.47 74.8 396.8C78.22 395.13 82.67 393.3 87.1 391.6C91.53 389.9 96.25 387.82 101.4 386.6C106.55 385.38 115.23 384.68 118 384.3" fill="none" stroke="#b0bcf8" stroke-width="2.5" filter="url(#bl15)" opacity="0.75"/>
<path d="M30 359.2C32 359.22 37.83 358.83 42 359.3C46.17 359.77 50.9 360.65 55 362C59.1 363.35 63.3 365.65 66.6 367.4C69.9 369.15 71.38 370.78 74.8 372.5C78.22 374.22 82.67 376.02 87.1 377.7C91.53 379.38 97.08 381.5 101.4 382.6C105.72 383.7 111.07 384.02 113 384.3 L113 384.3C111.07 384.58 105.72 384.9 101.4 386C97.08 387.1 91.53 389.22 87.1 390.9C82.67 392.58 78.22 394.38 74.8 396.1C71.38 397.82 69.9 399.45 66.6 401.2C63.3 402.95 59.1 405.25 55 406.6C50.9 407.95 46.17 408.83 42 409.3C37.83 409.77 32 409.38 30 409.4 L30 409.4 L30 359.2 Z" fill="#0000c0" stroke="none" stroke-width="1" filter="url(#bl15)"/>
<path d="M30 363.5C32 363.5 37.83 363.08 42 363.5C46.17 363.92 51 364.75 55 366C59 367.25 62.5 369.25 66 371C69.5 372.75 72.33 374.83 76 376.5C79.67 378.17 83 379.7 88 381C93 382.3 103 383.75 106 384.3 L106 384.3C103 384.85 93 386.3 88 387.6C83 388.9 79.67 390.43 76 392.1C72.33 393.77 69.5 395.85 66 397.6C62.5 399.35 59 401.35 55 402.6C51 403.85 46.17 404.68 42 405.1C37.83 405.52 32 405.1 30 405.1 L30 405.1 L30 363.5 Z" fill="#000040" stroke="none" stroke-width="1" filter="url(#bl3)"/>
<path d="M42 359.3C44.17 359.75 50.9 360.65 55 362C59.1 363.35 64.67 366.5 66.6 367.4" fill="none" stroke="#ff5050" stroke-width="1.2"/>
<path d="M42 409.3C44.17 408.85 50.9 407.95 55 406.6C59.1 405.25 64.67 402.1 66.6 401.2" fill="none" stroke="#ff5050" stroke-width="1.2"/>
</g>
<path d="M41.7 338.4 H244 V430.2 H41.7 Z" fill="none" stroke="#000" stroke-width="1.1"/>
<line x1="38.2" y1="341.7" x2="41.7" y2="341.7" stroke="#000" stroke-width="1"/>
<text x="35.3" y="346.1" font-size="12.4" text-anchor="end" fill="#000">0.6</text>
<line x1="38.2" y1="384.3" x2="41.7" y2="384.3" stroke="#000" stroke-width="1"/>
<text x="35.3" y="388.7" font-size="12.4" text-anchor="end" fill="#000">0</text>
<line x1="38.2" y1="426.9" x2="41.7" y2="426.9" stroke="#000" stroke-width="1"/>
<text x="35.3" y="431.3" font-size="12.4" text-anchor="end" fill="#000">-0.6</text>
<line x1="41.7" y1="430.2" x2="41.7" y2="433.7" stroke="#000" stroke-width="1"/>
<text x="41.7" y="445.9" font-size="12.4" text-anchor="middle" fill="#000">0</text>
<line x1="109.1" y1="430.2" x2="109.1" y2="433.7" stroke="#000" stroke-width="1"/>
<text x="109.1" y="445.9" font-size="12.4" text-anchor="middle" fill="#000">1</text>
<line x1="176.5" y1="430.2" x2="176.5" y2="433.7" stroke="#000" stroke-width="1"/>
<text x="176.5" y="445.9" font-size="12.4" text-anchor="middle" fill="#000">2</text>
<line x1="243.9" y1="430.2" x2="243.9" y2="433.7" stroke="#000" stroke-width="1"/>
<text x="243.9" y="445.9" font-size="12.4" text-anchor="middle" fill="#000">3</text>
<text x="8.5" y="384.2" font-size="13" text-anchor="middle" fill="#000" transform="rotate(-90 8.5 384.2)" letter-spacing="0.35"><tspan font-style="italic">I</tspan> (μA)</text>
<text x="125.3" y="451.5" font-size="13" text-anchor="start" fill="#000" font-style="italic" letter-spacing="0.35">B</text>
<text x="133.4" y="453" font-size="8.5" text-anchor="start" fill="#000">z</text>
<text x="142.2" y="451.5" font-size="13" text-anchor="start" fill="#000" letter-spacing="0.35">(T)</text>
<rect x="168.8" y="327" width="75.4" height="7" fill="url(#gSeis)" stroke="#000" stroke-width="0.8"/>
<line x1="169.8" y1="324.5" x2="169.8" y2="327" stroke="#000" stroke-width="1"/>
<text x="169.8" y="322.6" font-size="11" text-anchor="middle" fill="#000">0</text>
<line x1="206.6" y1="324.5" x2="206.6" y2="327" stroke="#000" stroke-width="1"/>
<text x="206.6" y="322.6" font-size="11" text-anchor="middle" fill="#000">1</text>
<line x1="243.5" y1="324.5" x2="243.5" y2="327" stroke="#000" stroke-width="1"/>
<text x="243.5" y="322.6" font-size="11" text-anchor="middle" fill="#000">2</text>
<text x="125.2" y="332.3" font-size="13" text-anchor="start" fill="#000" letter-spacing="0.35"><tspan font-style="italic">R</tspan> (kΩ)</text>
<g clip-path="url(#clipF)">
<rect x="41.7" y="465.1" width="77.8" height="91.3" fill="url(#gredF)" stroke="none" stroke-width="1"/>
<rect x="41.7" y="465.1" width="77.8" height="91.3" fill="#ffffff" opacity="0.3" filter="url(#speck)"/>
<path d="M59.7 455C60.52 457.5 62.58 465.33 64.6 470C66.62 474.67 68.92 478.67 71.8 483C74.68 487.33 78.77 492.62 81.9 496C85.03 499.38 87.58 501.25 90.6 503.3C93.62 505.35 95.65 507.02 100 508.3C104.35 509.58 113.92 510.55 116.7 511 L116.7 511.4C114.2 511.83 105.87 512.82 101.7 514C97.53 515.18 94.87 516.58 91.7 518.5C88.53 520.42 85.87 522.25 82.7 525.5C79.53 528.75 75.45 533.58 72.7 538C69.95 542.42 68.03 547.17 66.2 552C64.37 556.83 62.45 564.5 61.7 567 L31.7 567 L31.7 455 Z" fill="#ffffff" stroke="none" stroke-width="1" filter="url(#bl2)" opacity="0.85"/>
<path d="M56.7 455C57.53 457.5 59.9 465.57 61.7 470C63.5 474.43 65.33 477.75 67.5 481.6C69.67 485.45 72.05 489.73 74.7 493.1C77.35 496.47 80.52 499.38 83.4 501.8C86.28 504.22 89.23 506.15 92 507.6C94.77 509.05 97.72 509.9 100 510.5C102.28 511.1 104.75 511.08 105.7 511.2 L105.7 511.2C105.03 511.42 103.5 511.78 101.7 512.5C99.9 513.22 97.47 514.15 94.9 515.5C92.33 516.85 89.18 518.55 86.3 520.6C83.42 522.65 80.5 524.67 77.6 527.8C74.7 530.93 71.32 535.37 68.9 539.4C66.48 543.43 64.8 547.4 63.1 552C61.4 556.6 59.43 564.5 58.7 567 L31.7 567 L31.7 455 Z" fill="#b8c2f6" stroke="none" stroke-width="1" filter="url(#bl2)"/>
<path d="M54.2 455C55.03 457.5 57.4 465.57 59.2 470C61 474.43 62.83 477.75 65 481.6C67.17 485.45 69.55 489.73 72.2 493.1C74.85 496.47 78.02 499.38 80.9 501.8C83.78 504.22 86.73 506.15 89.5 507.6C92.27 509.05 95.22 509.9 97.5 510.5C99.78 511.1 102.25 511.08 103.2 511.2 L103.2 511.2C102.53 511.42 101 511.78 99.2 512.5C97.4 513.22 94.97 514.15 92.4 515.5C89.83 516.85 86.68 518.55 83.8 520.6C80.92 522.65 78 524.67 75.1 527.8C72.2 530.93 68.82 535.37 66.4 539.4C63.98 543.43 62.3 547.4 60.6 552C58.9 556.6 56.93 564.5 56.2 567 L31.7 567 L31.7 455 Z" fill="url(#gblueF)" stroke="none" stroke-width="1" filter="url(#bl15)"/>
<path d="M56.7 455C57.53 457.5 59.9 465.57 61.7 470C63.5 474.43 65.33 477.75 67.5 481.6C69.67 485.45 72.05 489.73 74.7 493.1C77.35 496.47 80.52 499.38 83.4 501.8C86.28 504.22 89.23 506.15 92 507.6C94.77 509.05 97.72 509.9 100 510.5C102.28 511.1 104.75 511.08 105.7 511.2 L105.7 511.2C105.03 511.42 103.5 511.78 101.7 512.5C99.9 513.22 97.47 514.15 94.9 515.5C92.33 516.85 89.18 518.55 86.3 520.6C83.42 522.65 80.5 524.67 77.6 527.8C74.7 530.93 71.32 535.37 68.9 539.4C66.48 543.43 64.8 547.4 63.1 552C61.4 556.6 59.43 564.5 58.7 567 L31.7 567 L31.7 455 Z" fill="#ffffff" opacity="0.3" filter="url(#speck)"/>
<path d="M36.7 481.6C37.53 481.6 39.7 480.4 41.7 481.6C43.7 482.8 47.05 486.88 48.7 488.8C50.35 490.72 50.4 491.17 51.6 493.1C52.8 495.03 54.22 498.23 55.9 500.4C57.58 502.57 59.53 504.53 61.7 506.1C63.87 507.67 66.23 508.95 68.9 509.8C71.57 510.65 76.23 510.97 77.7 511.2 L77.7 511.2C76.23 511.57 71.57 512.43 68.9 513.4C66.23 514.37 63.87 515.57 61.7 517C59.53 518.43 57.58 520.2 55.9 522C54.22 523.8 52.8 526.35 51.6 527.8C50.4 529.25 50.35 528.53 48.7 530.7C47.05 532.87 43.7 539.12 41.7 540.8C39.7 542.48 37.53 540.8 36.7 540.8 L31.7 540.8 L31.7 481.6 Z" fill="none" stroke="#c8d0f8" stroke-width="4" filter="url(#bl15)" opacity="0.85"/>
<path d="M36.7 481.6C37.53 481.6 39.7 480.4 41.7 481.6C43.7 482.8 47.05 486.88 48.7 488.8C50.35 490.72 50.4 491.17 51.6 493.1C52.8 495.03 54.22 498.23 55.9 500.4C57.58 502.57 59.53 504.53 61.7 506.1C63.87 507.67 66.23 508.95 68.9 509.8C71.57 510.65 76.23 510.97 77.7 511.2 L77.7 511.2C76.23 511.57 71.57 512.43 68.9 513.4C66.23 514.37 63.87 515.57 61.7 517C59.53 518.43 57.58 520.2 55.9 522C54.22 523.8 52.8 526.35 51.6 527.8C50.4 529.25 50.35 528.53 48.7 530.7C47.05 532.87 43.7 539.12 41.7 540.8C39.7 542.48 37.53 540.8 36.7 540.8 L31.7 540.8 L31.7 481.6 Z" fill="#0000d8" stroke="none" stroke-width="1" filter="url(#blur1)"/>
<path d="M36.7 484.1C37.53 484.1 39.7 482.9 41.7 484.1C43.7 485.3 47.05 489.38 48.7 491.3C50.35 493.22 50.4 493.67 51.6 495.6C52.8 497.53 54.22 500.73 55.9 502.9C57.58 505.07 58.07 507.22 61.7 508.6C65.33 509.98 75.03 510.77 77.7 511.2 L77.7 511.2C75.03 511.75 65.33 513.12 61.7 514.5C58.07 515.88 57.58 517.7 55.9 519.5C54.22 521.3 52.8 523.85 51.6 525.3C50.4 526.75 50.35 526.03 48.7 528.2C47.05 530.37 43.7 536.62 41.7 538.3C39.7 539.98 37.53 538.3 36.7 538.3 L31.7 538.3 L31.7 484.1 Z" fill="#000048" stroke="none" stroke-width="1" filter="url(#blur2)"/>
<path d="M41.7 481.6C42.28 482.12 44.03 483.5 45.2 484.7C46.37 485.9 48.12 488.12 48.7 488.8" fill="none" stroke="#ff5a5a" stroke-width="1.1"/>
<path d="M41.7 540.8C42.28 540 44.03 537.68 45.2 536C46.37 534.32 48.12 531.58 48.7 530.7" fill="none" stroke="#ff5a5a" stroke-width="1.1"/>
</g>
<rect x="41.7" y="465.1" width="77.8" height="91.3" fill="none" stroke="#000" stroke-width="1.1"/>
<line x1="38.2" y1="468.24" x2="41.7" y2="468.24" stroke="#000" stroke-width="1"/>
<text x="35.4" y="472.64" font-size="12.4" text-anchor="end" fill="#000">0.6</text>
<line x1="38.2" y1="511.2" x2="41.7" y2="511.2" stroke="#000" stroke-width="1"/>
<text x="35.4" y="515.6" font-size="12.4" text-anchor="end" fill="#000">0</text>
<line x1="38.2" y1="554.16" x2="41.7" y2="554.16" stroke="#000" stroke-width="1"/>
<text x="35.4" y="558.56" font-size="12.4" text-anchor="end" fill="#000">-0.6</text>
<line x1="41.7" y1="556.4" x2="41.7" y2="559.9" stroke="#000" stroke-width="1"/>
<text x="41.7" y="572.9" font-size="12.4" text-anchor="middle" fill="#000">0</text>
<line x1="119.5" y1="556.4" x2="119.5" y2="559.9" stroke="#000" stroke-width="1"/>
<text x="119.5" y="572.9" font-size="12.4" text-anchor="middle" fill="#000">1</text>
<text x="2.3" y="472.4" font-size="17" text-anchor="start" fill="#000">(f)</text>
<text x="9.8" y="510.2" font-size="13" text-anchor="middle" fill="#000" transform="rotate(-90 9.8 510.2)" letter-spacing="0.35"><tspan font-style="italic">I</tspan> (μA)</text>
<text x="63.3" y="584.5" font-size="13" text-anchor="start" fill="#000" font-style="italic" letter-spacing="0.35">B</text>
<text x="71.5" y="586" font-size="8.5" text-anchor="start" fill="#000">y</text>
<text x="80.3" y="584.5" font-size="13" text-anchor="start" fill="#000" letter-spacing="0.35">(T)</text>
<g clip-path="url(#clipG)">
<rect x="166.6" y="465.1" width="77.8" height="91.3" fill="url(#gredG)" stroke="none" stroke-width="1"/>
<rect x="166.6" y="465.1" width="77.8" height="91.3" fill="#ffffff" opacity="0.3" filter="url(#speck)"/>
<path d="M189.6 455C190.32 457.5 192.1 465.57 193.9 470C195.7 474.43 197.98 478.23 200.4 481.6C202.82 484.97 205.63 487.8 208.4 490.2C211.17 492.6 214.23 494.43 217 496C219.77 497.57 221.73 498.02 225 499.6C228.27 501.18 233 503.93 236.6 505.5C240.2 507.07 243.27 508.17 246.6 509C249.93 509.83 254.93 510.25 256.6 510.5 L256.6 512C254.93 512.25 250.77 512.42 246.6 513.5C242.43 514.58 236.03 516.72 231.6 518.5C227.17 520.28 223.63 522.17 220 524.2C216.37 526.23 212.7 528.17 209.8 530.7C206.9 533.23 204.52 535.85 202.6 539.4C200.68 542.95 199.63 547.4 198.3 552C196.97 556.6 195.22 564.5 194.6 567 L156.6 567 L156.6 455 Z" fill="#ffffff" stroke="none" stroke-width="1" filter="url(#bl2)" opacity="0.85"/>
<path d="M186.6 455C187.33 457.5 189.3 465.57 191 470C192.7 474.43 194.63 477.98 196.8 481.6C198.97 485.22 201.35 488.82 204 491.7C206.65 494.58 209.2 496.73 212.7 498.9C216.2 501.07 221.02 503.02 225 504.7C228.98 506.38 233.63 507.92 236.6 509C239.57 510.08 241.77 510.83 242.8 511.2 L242.8 511.2C241.77 511.58 239.57 512.3 236.6 513.5C233.63 514.7 228.5 516.98 225 518.4C221.5 519.82 218.62 520.43 215.6 522C212.58 523.57 209.55 525.15 206.9 527.8C204.25 530.45 201.62 533.87 199.7 537.9C197.78 541.93 196.75 547.15 195.4 552C194.05 556.85 192.23 564.5 191.6 567 L156.6 567 L156.6 455 Z" fill="#b8c2f6" stroke="none" stroke-width="1" filter="url(#bl2)"/>
<path d="M184.1 455C184.83 457.5 186.8 465.57 188.5 470C190.2 474.43 192.13 477.98 194.3 481.6C196.47 485.22 198.85 488.82 201.5 491.7C204.15 494.58 206.7 496.73 210.2 498.9C213.7 501.07 218.52 503.02 222.5 504.7C226.48 506.38 231.13 507.92 234.1 509C237.07 510.08 239.27 510.83 240.3 511.2 L240.3 511.2C239.27 511.58 237.07 512.3 234.1 513.5C231.13 514.7 226 516.98 222.5 518.4C219 519.82 216.12 520.43 213.1 522C210.08 523.57 207.05 525.15 204.4 527.8C201.75 530.45 199.12 533.87 197.2 537.9C195.28 541.93 194.25 547.15 192.9 552C191.55 556.85 189.73 564.5 189.1 567 L156.6 567 L156.6 455 Z" fill="url(#gblueG)" stroke="none" stroke-width="1" filter="url(#bl15)"/>
<path d="M186.6 455C187.33 457.5 189.3 465.57 191 470C192.7 474.43 194.63 477.98 196.8 481.6C198.97 485.22 201.35 488.82 204 491.7C206.65 494.58 209.2 496.73 212.7 498.9C216.2 501.07 221.02 503.02 225 504.7C228.98 506.38 233.63 507.92 236.6 509C239.57 510.08 241.77 510.83 242.8 511.2 L242.8 511.2C241.77 511.58 239.57 512.3 236.6 513.5C233.63 514.7 228.5 516.98 225 518.4C221.5 519.82 218.62 520.43 215.6 522C212.58 523.57 209.55 525.15 206.9 527.8C204.25 530.45 201.62 533.87 199.7 537.9C197.78 541.93 196.75 547.15 195.4 552C194.05 556.85 192.23 564.5 191.6 567 L156.6 567 L156.6 455 Z" fill="#ffffff" opacity="0.3" filter="url(#speck)"/>
<path d="M161.6 487.3C162.43 487.3 164.77 486.93 166.6 487.3C168.43 487.67 170.7 488.4 172.6 489.5C174.5 490.6 176.13 491.97 178 493.9C179.87 495.83 182.12 499.07 183.8 501.1C185.48 503.13 186.65 504.65 188.1 506.1C189.55 507.55 191.28 508.95 192.5 509.8C193.72 510.65 194.92 510.97 195.4 511.2 L195.4 511.2C194.92 511.43 193.72 511.75 192.5 512.6C191.28 513.45 189.55 514.85 188.1 516.3C186.65 517.75 185.48 519.13 183.8 521.3C182.12 523.47 179.87 527.37 178 529.3C176.13 531.23 174.5 531.93 172.6 532.9C170.7 533.87 168.43 534.73 166.6 535.1C164.77 535.47 162.43 535.1 161.6 535.1 L156.6 535.1 L156.6 487.3 Z" fill="none" stroke="#c8d0f8" stroke-width="4" filter="url(#bl15)" opacity="0.85"/>
<path d="M161.6 487.3C162.43 487.3 164.77 486.93 166.6 487.3C168.43 487.67 170.7 488.4 172.6 489.5C174.5 490.6 176.13 491.97 178 493.9C179.87 495.83 182.12 499.07 183.8 501.1C185.48 503.13 186.65 504.65 188.1 506.1C189.55 507.55 191.28 508.95 192.5 509.8C193.72 510.65 194.92 510.97 195.4 511.2 L195.4 511.2C194.92 511.43 193.72 511.75 192.5 512.6C191.28 513.45 189.55 514.85 188.1 516.3C186.65 517.75 185.48 519.13 183.8 521.3C182.12 523.47 179.87 527.37 178 529.3C176.13 531.23 174.5 531.93 172.6 532.9C170.7 533.87 168.43 534.73 166.6 535.1C164.77 535.47 162.43 535.1 161.6 535.1 L156.6 535.1 L156.6 487.3 Z" fill="#0000d8" stroke="none" stroke-width="1" filter="url(#blur1)"/>
<path d="M161.6 489.8C162.43 489.8 164.77 489.43 166.6 489.8C168.43 490.17 170.7 490.9 172.6 492C174.5 493.1 176.13 494.47 178 496.4C179.87 498.33 182.12 501.57 183.8 503.6C185.48 505.63 186.17 507.33 188.1 508.6C190.03 509.87 194.18 510.77 195.4 511.2 L195.4 511.2C194.18 511.63 190.03 512.53 188.1 513.8C186.17 515.07 185.48 516.63 183.8 518.8C182.12 520.97 179.87 524.87 178 526.8C176.13 528.73 174.5 529.43 172.6 530.4C170.7 531.37 168.43 532.23 166.6 532.6C164.77 532.97 162.43 532.6 161.6 532.6 L156.6 532.6 L156.6 489.8 Z" fill="#000048" stroke="none" stroke-width="1" filter="url(#blur2)"/>
<path d="M166.6 487.3C167.6 487.67 170.7 488.4 172.6 489.5C174.5 490.6 177.1 493.17 178 493.9" fill="none" stroke="#ff5a5a" stroke-width="1.1"/>
<path d="M166.6 535.1C167.6 534.73 170.7 533.87 172.6 532.9C174.5 531.93 177.1 529.9 178 529.3" fill="none" stroke="#ff5a5a" stroke-width="1.1"/>
</g>
<rect x="166.6" y="465.1" width="77.8" height="91.3" fill="none" stroke="#000" stroke-width="1.1"/>
<line x1="163.1" y1="468.24" x2="166.6" y2="468.24" stroke="#000" stroke-width="1"/>
<text x="160.3" y="472.64" font-size="12.4" text-anchor="end" fill="#000">0.6</text>
<line x1="163.1" y1="511.2" x2="166.6" y2="511.2" stroke="#000" stroke-width="1"/>
<text x="160.3" y="515.6" font-size="12.4" text-anchor="end" fill="#000">0</text>
<line x1="163.1" y1="554.16" x2="166.6" y2="554.16" stroke="#000" stroke-width="1"/>
<text x="160.3" y="558.56" font-size="12.4" text-anchor="end" fill="#000">-0.6</text>
<line x1="166.6" y1="556.4" x2="166.6" y2="559.9" stroke="#000" stroke-width="1"/>
<text x="166.6" y="572.9" font-size="12.4" text-anchor="middle" fill="#000">0</text>
<line x1="244.4" y1="556.4" x2="244.4" y2="559.9" stroke="#000" stroke-width="1"/>
<text x="244.4" y="572.9" font-size="12.4" text-anchor="middle" fill="#000">1</text>
<text x="122.5" y="472.1" font-size="17" text-anchor="start" fill="#000">(g)</text>
<text x="137.3" y="511.2" font-size="13" text-anchor="middle" fill="#000" transform="rotate(-90 137.3 511.2)" letter-spacing="0.35"><tspan font-style="italic">I</tspan> (μA)</text>
<text x="187.5" y="586.6" font-size="13" text-anchor="start" fill="#000" font-style="italic" letter-spacing="0.35">B</text>
<text x="195.7" y="588" font-size="8.5" text-anchor="start" fill="#000">x</text>
<text x="204.2" y="586.6" font-size="13" text-anchor="start" fill="#000" letter-spacing="0.35">(T)</text>
<text x="271.2" y="332.4" font-size="17" text-anchor="start" fill="#000">(h)</text>
<line x1="297.3" y1="372.9" x2="398.2" y2="372.9" stroke="#2a9a2a" stroke-width="1.1" stroke-dasharray="3.2 2.2"/>
<rect x="297.3" y="338.4" width="100.9" height="70.2" fill="none" stroke="#000" stroke-width="1.1"/>
<line x1="293.8" y1="349.4" x2="297.3" y2="349.4" stroke="#000" stroke-width="1"/>
<text x="291.2" y="353.8" font-size="12.4" text-anchor="end" fill="#000">0.2</text>
<line x1="293.8" y1="372.9" x2="297.3" y2="372.9" stroke="#000" stroke-width="1"/>
<text x="291.2" y="377.3" font-size="12.4" text-anchor="end" fill="#000">0</text>
<line x1="293.8" y1="396.4" x2="297.3" y2="396.4" stroke="#000" stroke-width="1"/>
<text x="291.2" y="400.8" font-size="12.4" text-anchor="end" fill="#000">-0.2</text>
<line x1="322.47" y1="408.6" x2="322.47" y2="411.6" stroke="#000" stroke-width="1"/>
<line x1="347.7" y1="408.6" x2="347.7" y2="411.6" stroke="#000" stroke-width="1"/>
<line x1="372.93" y1="408.6" x2="372.93" y2="411.6" stroke="#000" stroke-width="1"/>
<text x="264.5" y="372.6" font-size="13" text-anchor="middle" fill="#000" transform="rotate(-90 264.5 372.6)" letter-spacing="0.35"><tspan font-style="italic">V</tspan> (mV)</text>
<line x1="297.3" y1="448" x2="398.2" y2="448" stroke="#2a9a2a" stroke-width="1.1" stroke-dasharray="3.2 2.2"/>
<rect x="297.3" y="413.4" width="100.9" height="70" fill="none" stroke="#000" stroke-width="1.1"/>
<line x1="293.8" y1="424.5" x2="297.3" y2="424.5" stroke="#000" stroke-width="1"/>
<text x="291.2" y="428.9" font-size="12.4" text-anchor="end" fill="#000">0.2</text>
<line x1="293.8" y1="448" x2="297.3" y2="448" stroke="#000" stroke-width="1"/>
<text x="291.2" y="452.4" font-size="12.4" text-anchor="end" fill="#000">0</text>
<line x1="293.8" y1="471.5" x2="297.3" y2="471.5" stroke="#000" stroke-width="1"/>
<text x="291.2" y="475.9" font-size="12.4" text-anchor="end" fill="#000">-0.2</text>
<line x1="322.47" y1="483.4" x2="322.47" y2="486.4" stroke="#000" stroke-width="1"/>
<line x1="347.7" y1="483.4" x2="347.7" y2="486.4" stroke="#000" stroke-width="1"/>
<line x1="372.93" y1="483.4" x2="372.93" y2="486.4" stroke="#000" stroke-width="1"/>
<text x="264.5" y="447.7" font-size="13" text-anchor="middle" fill="#000" transform="rotate(-90 264.5 447.7)" letter-spacing="0.35"><tspan font-style="italic">V</tspan> (mV)</text>
<line x1="297.3" y1="522.6" x2="398.2" y2="522.6" stroke="#2a9a2a" stroke-width="1.1" stroke-dasharray="3.2 2.2"/>
<rect x="297.3" y="488.3" width="100.9" height="69.7" fill="none" stroke="#000" stroke-width="1.1"/>
<line x1="293.8" y1="499.1" x2="297.3" y2="499.1" stroke="#000" stroke-width="1"/>
<text x="291.2" y="503.5" font-size="12.4" text-anchor="end" fill="#000">0.2</text>
<line x1="293.8" y1="522.6" x2="297.3" y2="522.6" stroke="#000" stroke-width="1"/>
<text x="291.2" y="527" font-size="12.4" text-anchor="end" fill="#000">0</text>
<line x1="293.8" y1="546.1" x2="297.3" y2="546.1" stroke="#000" stroke-width="1"/>
<text x="291.2" y="550.5" font-size="12.4" text-anchor="end" fill="#000">-0.2</text>
<line x1="322.47" y1="558" x2="322.47" y2="561" stroke="#000" stroke-width="1"/>
<line x1="347.7" y1="558" x2="347.7" y2="561" stroke="#000" stroke-width="1"/>
<line x1="372.93" y1="558" x2="372.93" y2="561" stroke="#000" stroke-width="1"/>
<text x="264.5" y="522.3" font-size="13" text-anchor="middle" fill="#000" transform="rotate(-90 264.5 522.3)" letter-spacing="0.35"><tspan font-style="italic">V</tspan> (mV)</text>
<g clip-path="url(#clipH0)">
<path d="M296 407C297.67 405 299.33 402.66 301 401C303.23 398.78 305.47 397.36 307.7 395.7C309.47 394.38 311.23 393.09 313 392C315.43 390.5 317.87 389.4 320.3 388.1C322.87 386.73 325.43 385.49 328 384C330.5 382.55 333 380.86 335.5 379.3C337 378.36 338.5 377.27 340 376.5C341.87 375.54 343.73 374.94 345.6 374.2C347.07 373.62 348.53 373.05 350 372.5C351.9 371.78 353.8 371.39 355.7 370.4C357.13 369.65 358.57 368.4 360 367.5C361.93 366.28 363.87 365.22 365.8 364.1C368.2 362.71 370.6 361.21 373 360C375.67 358.66 378.33 358.05 381 356.5C384 354.76 387 352.87 390 350C393 347.13 396 342.87 399 339.3" fill="none" stroke="#0000ff" stroke-width="1.4" stroke-linejoin="round"/>
<path d="M296 396.2C298.33 394.63 300.67 393.03 303 391.5C305.4 389.93 307.8 389.02 310.2 386.9C311.8 385.49 313.4 383.43 315 381.5C316.17 380.09 317.33 378.18 318.5 377C319.53 375.95 320.57 375.23 321.6 374.7C322.87 374.05 324.13 373.68 325.4 373.6C331.93 373.2 338.47 373.2 345 373.2C352.8 373.2 360.6 373.2 368.4 373.2C369.6 373.2 370.8 373.03 372 372.4C373.17 371.79 374.33 370.59 375.5 369.5C376.5 368.57 377.5 367.4 378.5 366.4C381.03 363.86 383.57 361.02 386.1 359C390.4 355.57 394.7 353.67 399 351" fill="none" stroke="#000" stroke-width="1.4" stroke-linejoin="round"/>
<path d="M296 394.2C298.33 393.13 300.67 392 303 391C305.4 389.97 307.8 389.02 310.2 388.1C312.13 387.36 314.07 387 316 386C317.43 385.26 318.87 384.54 320.3 383.1C321.2 382.2 322.1 380.61 323 379.5C323.8 378.52 324.6 377.52 325.4 376.8C326.67 375.65 327.93 374.72 329.2 374.2C331.13 373.41 333.07 373.4 335 373.4C345.27 373.4 355.53 373.4 365.8 373.4C366.7 373.4 367.6 372.68 368.5 372C369.33 371.37 370.17 370.48 371 369.5C372.67 367.55 374.33 364.44 376 362.8C379.37 359.49 382.73 358.5 386.1 356.5C390.4 353.94 394.7 351.63 399 349.2" fill="none" stroke="#ff0000" stroke-width="1.4" stroke-linejoin="round"/>
</g>
<g clip-path="url(#clipH1)">
<path d="M296 467.5C297.67 466.67 299.33 465.8 301 465C303.23 463.93 305.47 463.37 307.7 461.9C308.63 461.28 309.57 460.47 310.5 459.5C311.23 458.74 311.97 458.02 312.7 456.8C313.3 455.8 313.9 453.93 314.5 453C315.17 451.96 315.83 451.42 316.5 451C318.6 449.67 320.7 449.56 322.8 449.3C330.4 448.34 338 448.59 345.6 448.3C352.07 448.05 358.53 447.8 365 447.3C366.97 447.15 368.93 446.99 370.9 446.7C372.6 446.45 374.3 446.24 376 445.7C376.83 445.43 377.67 445.22 378.5 444.6C379.33 443.98 380.17 443.07 381 442C381.43 441.44 381.87 440.78 382.3 440C382.87 438.98 383.43 437.42 384 436.5C384.7 435.36 385.4 434.62 386.1 434C388.07 432.25 390.03 431.57 392 430.5C394.33 429.22 396.67 428.17 399 427" fill="none" stroke="#000" stroke-width="1.4" stroke-linejoin="round"/>
<path d="M299 485.5C306.1 478.9 313.2 471.3 320.3 465.7C329.4 458.52 338.5 453.92 347.6 448C355.37 442.95 363.13 438.82 370.9 432.8C378.43 426.96 385.97 419.27 393.5 412.5" fill="none" stroke="#ff0000" stroke-width="1.4" stroke-linejoin="round"/>
</g>
<g clip-path="url(#clipH2)">
<path d="M296 546.5C297.33 545.57 298.67 544.65 300 543.7C302.57 541.87 305.13 540.15 307.7 538.1C309.47 536.69 311.23 535.28 313 533.5C314.6 531.89 316.2 529.9 317.8 528C318.53 527.13 319.27 525.93 320 525.3C320.77 524.65 321.53 524.43 322.3 524.2C324.87 523.42 327.43 523.42 330 523.2C335.2 522.76 340.4 522.7 345.6 522.6C353.2 522.46 360.8 522.59 368.4 521.9C369.6 521.79 370.8 521.34 372 520.8C372.9 520.4 373.8 519.97 374.7 519.2C375.8 518.26 376.9 516.76 378 515.5C379.87 513.37 381.73 510.81 383.6 509C385.73 506.93 387.87 505.51 390 504C393 501.88 396 500.2 399 498.3" fill="none" stroke="#000" stroke-width="1.4" stroke-linejoin="round"/>
<path d="M296 555.8C313.2 544.73 330.4 533.96 347.6 522.6C364.73 511.29 381.87 499.4 399 487.8" fill="none" stroke="#ff0000" stroke-width="1.4" stroke-linejoin="round"/>
</g>
<text x="297.24" y="573.4" font-size="12.4" text-anchor="middle" fill="#000">-0.6</text>
<text x="347.7" y="573.4" font-size="12.4" text-anchor="middle" fill="#000">0</text>
<text x="398.16" y="573.4" font-size="12.4" text-anchor="middle" fill="#000">0.6</text>
<text x="347.6" y="586.8" font-size="13" text-anchor="middle" fill="#000" letter-spacing="0.35"><tspan font-style="italic">I</tspan> (μA)</text>
<text x="324.2" y="348.8" font-size="10.5" text-anchor="start" fill="#000" font-style="italic">B</text>
<text x="330.8" y="350.6" font-size="7.5" text-anchor="start" fill="#000">z</text>
<text x="300.6" y="362.8" font-size="10" text-anchor="start" fill="#000">0 T</text>
<text x="318.3" y="362.8" font-size="10" text-anchor="start" fill="#ff0000">0.3 T</text>
<text x="339.6" y="362.8" font-size="10" text-anchor="start" fill="#0000ff">0.6 T</text>
<text x="323.8" y="423.6" font-size="10.5" text-anchor="start" fill="#000" font-style="italic">B</text>
<text x="330.4" y="425.4" font-size="7.5" text-anchor="start" fill="#000">y</text>
<text x="311.4" y="437.3" font-size="10" text-anchor="start" fill="#000">0 T</text>
<text x="329.2" y="437.3" font-size="10" text-anchor="start" fill="#ff0000">0.3 T</text>
<text x="323.8" y="498.3" font-size="10.5" text-anchor="start" fill="#000" font-style="italic">B</text>
<text x="330.4" y="500.1" font-size="7.5" text-anchor="start" fill="#000">x</text>
<text x="311.4" y="512.3" font-size="10" text-anchor="start" fill="#000">0 T</text>
<text x="329.2" y="512.3" font-size="10" text-anchor="start" fill="#ff0000">0.3 T</text>
</svg></body></html>
